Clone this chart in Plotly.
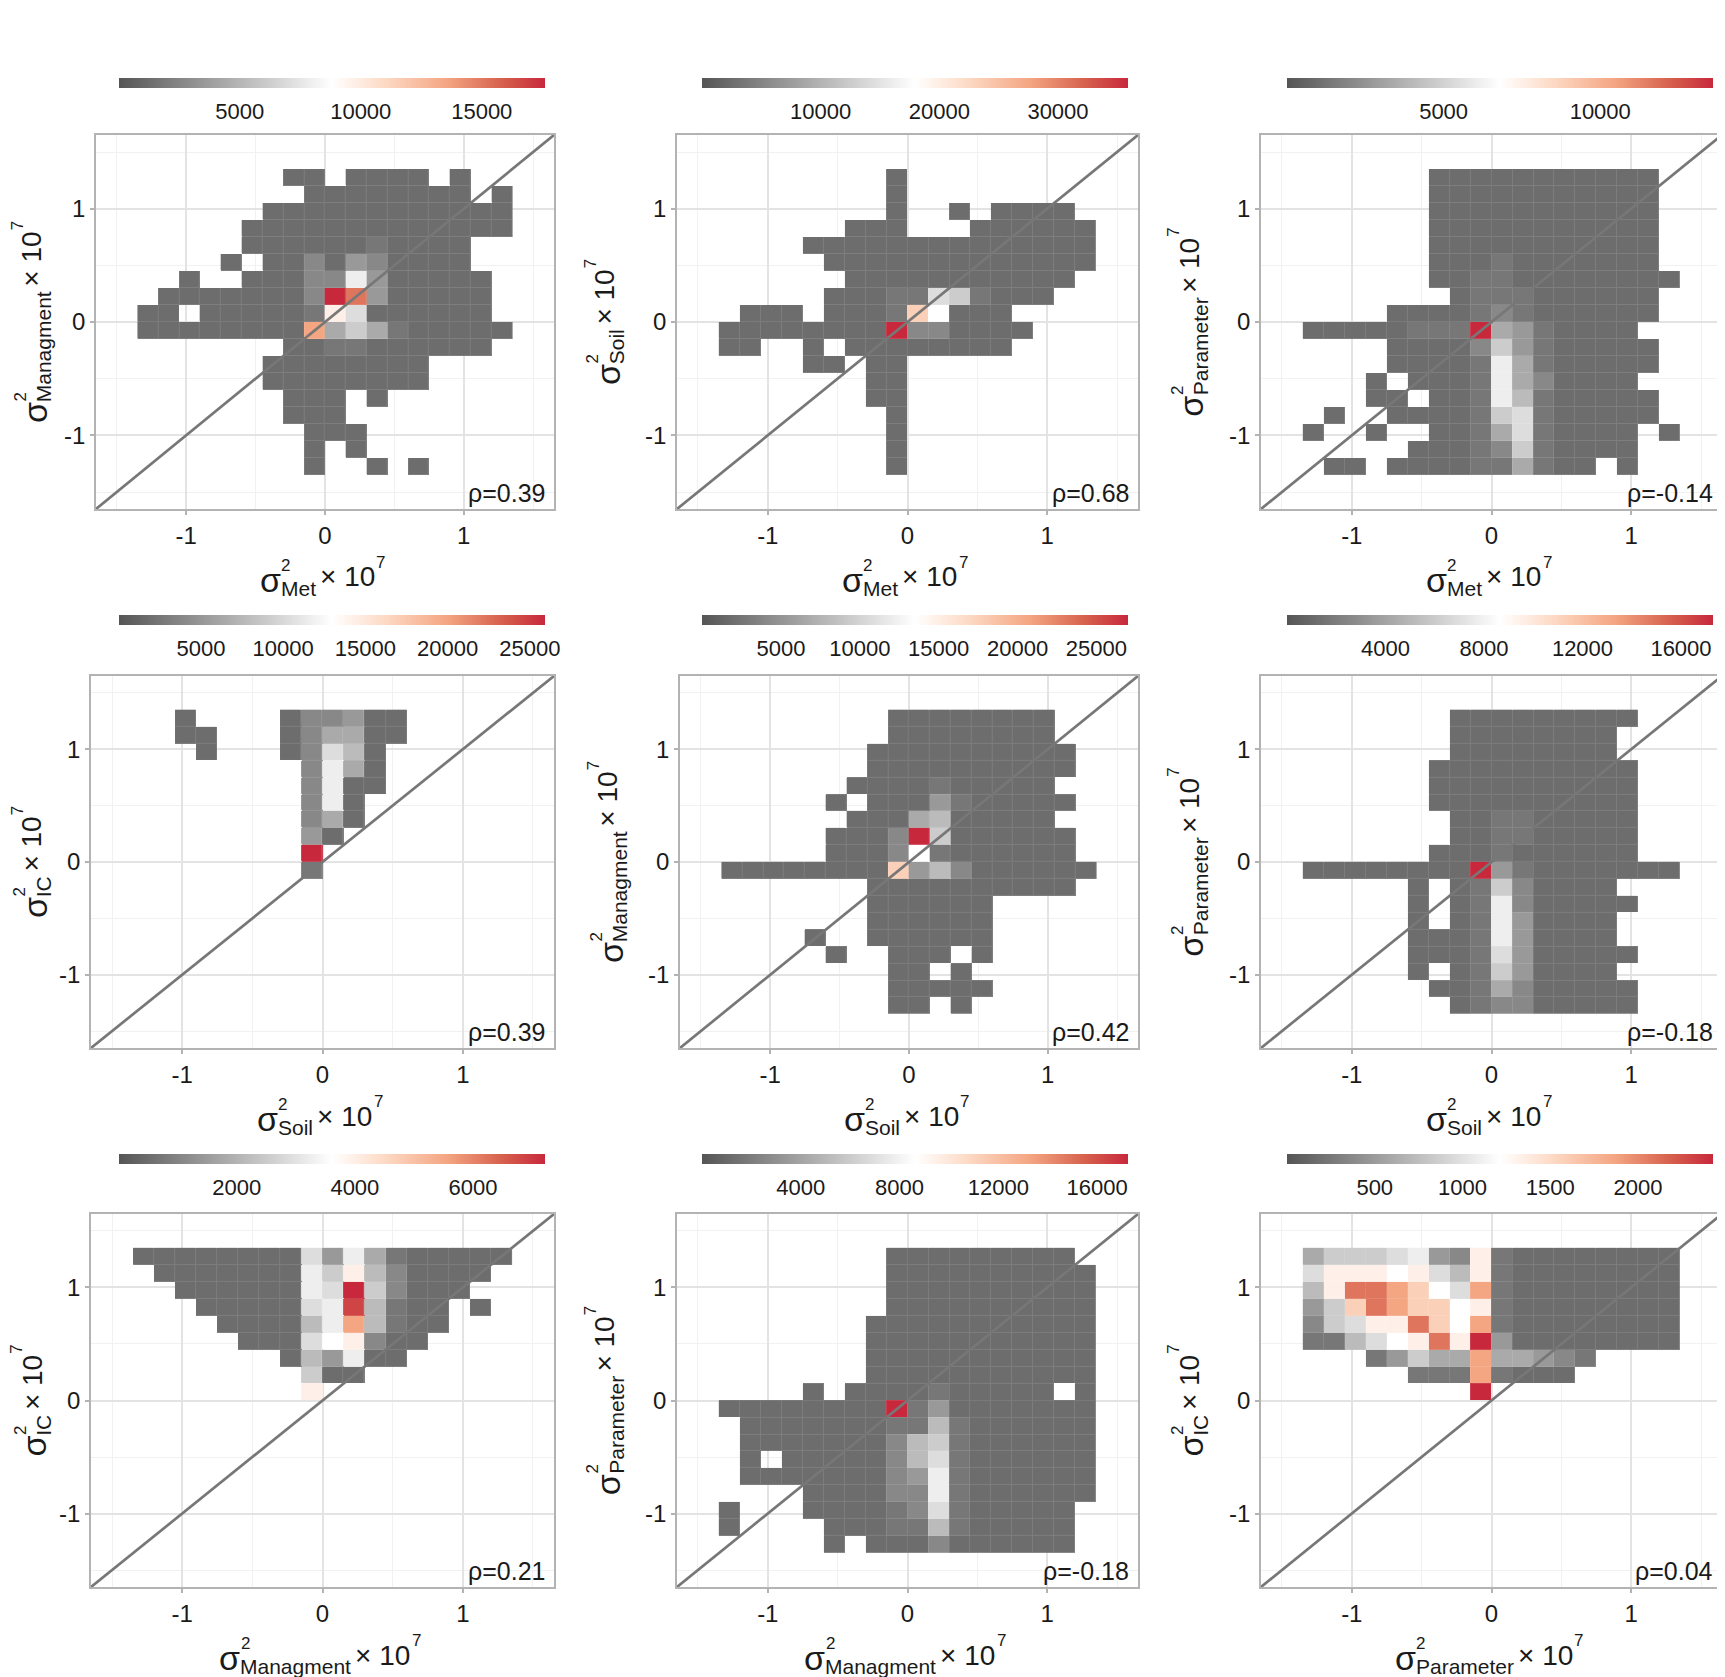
import plotly.graph_objects as go

# The page body has an 8px default margin, so the figure is drawn 8px in from the
# window's top-left corner; all layout pixel positions below are window pixels.
WIN_W, WIN_H = 1725, 1677
OFF = 8
W, H = WIN_W - OFF, WIN_H - OFF
FONT = "Liberation Sans, Arial, sans-serif"

# ---------------- data ----------------
BIN_CENTERS = [-1.275, -1.125, -0.975, -0.825, -0.675, -0.525, -0.375, -0.225, -0.075,
               0.075, 0.225, 0.375, 0.525, 0.675, 0.825, 0.975, 1.125, 1.275]
AXIS_TICKS = [-1, 0, 1]
AXIS_TICK_LABELS = ["-1", "0", "1"]
MINOR_TICKS = [-1.5, -0.5, 0.5, 1.5]
AXIS_RANGE = [-1.65, 1.65]

X_NAMES = ["Met", "Met", "Met", "Soil", "Soil", "Soil", "Managment", "Managment", "Parameter"]
Y_NAMES = ["Managment", "Soil", "Parameter", "IC", "Managment", "Parameter", "IC", "Parameter", "IC"]
RHO = ["0.39", "0.68", "-0.14", "0.39", "0.42", "-0.18", "0.21", "-0.18", "0.04"]
ZMAX = [17600, 35900, 13600, 25900, 27000, 17300, 7215, 17250, 2427]
CB_TICKS = [
    [5000, 10000, 15000],
    [10000, 20000, 30000],
    [5000, 10000],
    [5000, 10000, 15000, 20000, 25000],
    [5000, 10000, 15000, 20000, 25000],
    [4000, 8000, 12000, 16000],
    [2000, 4000, 6000],
    [4000, 8000, 12000, 16000],
    [500, 1000, 1500, 2000],
]

# cell level codes -> share of the colour-bar maximum ('.' = empty bin)
LEVELS = {'1': 0.07, '2': 0.10, '3': 0.15, '4': 0.20, '5': 0.25, '6': 0.30, '7': 0.35,
          '8': 0.40, '9': 0.45, 'w': 0.50, 'p': 0.55, 'q': 0.65, 'o': 0.77, 'r': 0.86,
          'S': 0.95, 'R': 1.00}

# rows listed top (y = 1.275) to bottom (y = -1.275), columns left to right
GRID_1 = [
    ".......11.1111.1..",
    "........11111111.1",
    "......111111111111",
    ".....1111111111111",
    ".....11111121111..",
    "....1.1131431111..",
    "..1..111339411111.",
    ".11111113Rr411111.",
    "11.111112p8111111.",
    "11111111o575211111",
    ".......1122111111.",
    "......11111111....",
    "......11111111....",
    ".......111.1......",
    ".......111........",
    "........111.......",
    "........1.1.......",
    "........1..1.1....",
]
GRID_2 = [
    "........1.........",
    "........1.........",
    "........1..1.1111.",
    "......111...111111",
    "....11111111111111",
    ".....1111111111111",
    "......11111111111.",
    ".....11122872111..",
    ".111.1112qw111....",
    "11111111R331111...",
    "11..1.11111111....",
    "....11.11.........",
    ".......11.........",
    ".......11.........",
    "........1.........",
    "........1.........",
    "........1.........",
    "........1.........",
]
GRID_3 = [
    "......11111111111.",
    "......11111111111.",
    "......11111111111.",
    "......11111111111.",
    "......11111111111.",
    "......11121111111.",
    "......112211111111",
    ".......1222111111.",
    "....1111232111111.",
    "11111222R5421111..",
    "....1111374211111.",
    "....1111295211111.",
    "...1.11129531111..",
    "...11.11296211111.",
    ".1..1111278211111.",
    "1..1..1125821111.1",
    ".....11123721111..",
    ".11.1111225211.1..",
]
GRID_4 = [
    "..1....133411.....",
    "..11...135511.....",
    "...1...13861......",
    "........3951......",
    "........3911......",
    "........391.......",
    "........351.......",
    "........41........",
    "........R.........",
    "........2.........",
    "..................",
    "..................",
    "..................",
    "..................",
    "..................",
    "..................",
    "..................",
    "..................",
]
GRID_5 = [
    "........11111111..",
    "........11111111..",
    ".......1111111111.",
    ".......1111111111.",
    "......1111211111..",
    ".....1.1114211111.",
    "......1115611111..",
    ".....1113R7111111.",
    ".....1113w2111111.",
    "11111111q463111111",
    ".......1111111111.",
    ".......111111.....",
    ".......111111.....",
    "....1..111111.....",
    ".....1..111.1.....",
    "........11.1......",
    "........11111.....",
    "........11.1......",
]
GRID_6 = [
    ".......111111111..",
    ".......11111111...",
    ".......11111111...",
    "......1111111111..",
    "......1111111111..",
    "......1111111111..",
    ".......112211111..",
    ".......112211111..",
    "......1112111111..",
    "11111111R421111111",
    ".....1.12731111...",
    ".....1.129311111..",
    ".....1.12941111...",
    ".....1112941111...",
    ".....11128411111..",
    ".....1.12741111...",
    "......1125311111..",
    ".......123311111..",
]
GRID_7 = [
    "111111118495211111",
    ".111111197p631111.",
    "..11111198R73111..",
    "...1111189S6211.1.",
    "....111169o6211...",
    ".....1118wp311....",
    ".......164911.....",
    "........711.......",
    "........p.........",
    "..................",
    "..................",
    "..................",
    "..................",
    "..................",
    "..................",
    "..................",
    "..................",
    "..................",
]
GRID_8 = [
    "........111111111.",
    "........1111111111",
    "........1111111111",
    "........1111111111",
    ".......11111111111",
    ".......11111111111",
    ".......11111111111",
    ".......11111111111",
    "....1.1111211111.1",
    "11111111R241111111",
    ".11111112262111111",
    ".11111113672111111",
    ".1.111113682111111",
    ".11111113492111111",
    "....11113392111111",
    "1...1111238211111.",
    "1....111226211111.",
    ".....1.1113111111.",
]
GRID_9 = [
    "57778943p211111111",
    "8pppwp86p211111111",
    "6prroqw8o211111111",
    "47qroqqwp211111111",
    "378pprqwo211111111",
    "2268wprpR411111111",
    "...24755o55432....",
    ".....222o2111.....",
    "........R.........",
    "..................",
    "..................",
    "..................",
    "..................",
    "..................",
    "..................",
    "..................",
    "..................",
    "..................",
]
GRIDS = [GRID_1, GRID_2, GRID_3, GRID_4, GRID_5, GRID_6, GRID_7, GRID_8, GRID_9]

# ---------------- styling / layout ----------------
COLORSCALE = [[0.0, "#555555"], [0.5, "#ffffff"], [0.62, "#fddbc7"],
              [0.77, "#f4a582"], [0.9, "#d6604d"], [1.0, "#c8283c"]]

PANEL_X0 = [96, 677, 1261, 91, 680, 1261, 91, 677, 1261]
PANEL_X1 = [554, 1138, 1722, 554, 1138, 1722, 554, 1138, 1722]
ROW_TOP = [135, 676, 1214]
ROW_BOT = [509, 1048, 1587]
CB_CX = [331.7, 915.0, 1500.0]
CB_TOP = [78.5, 615.0, 1154.0]
CB_LEN = 426


def px(x):  # window px -> paper x
    return (x - OFF) / W


def py(y):  # window px -> paper y
    return 1 - (y - OFF) / H


CHAR_W = {'M': .833, 'e': .556, 't': .278, 'a': .556, 'n': .556, 'g': .556, 'm': .833,
          'S': .667, 'o': .556, 'i': .222, 'l': .222, 'I': .278, 'C': .722, 'P': .667,
          'r': .333, ' ': .278, '×': .584, '1': .556, '0': .556, '7': .556, '2': .556}


def text_w(s, size):
    return sum(CHAR_W.get(c, .556) for c in s) * size


SIG, SUB, SUP, MAIN, EXP = 34, 21, 17, 28, 17
TXT = "#1a1a1a"


def title_pieces(name):
    """(text, size, centre along the text, offset across it) for sigma^2_name x 10^7."""
    w_sig = 0.58 * SIG
    s1 = w_sig + 0.5
    w_sub = text_w(name, SUB)
    s2 = s1 + w_sub + 4
    w_main = text_w("× 10", MAIN)
    s3 = s2 + w_main + 1
    w_exp = text_w("7", EXP)
    pieces = [
        ("σ", SIG, w_sig / 2, 2.5),
        (name, SUB, s1 + w_sub / 2, 11.5),
        ("2", SUP, s1 + text_w("2", SUP) / 2, -12),
        ("× 10", MAIN, s2 + w_main / 2, 0),
        ("7", EXP, s3 + w_exp / 2, -15),
    ]
    return pieces, s3 + w_exp


fig = go.Figure()
annotations = []
layout = {}

for k in range(9):
    row, col = divmod(k, 3)
    sfx = "" if k == 0 else str(k + 1)
    ca = "coloraxis" + sfx
    z = [[None if ch == "." else LEVELS[ch] * ZMAX[k] for ch in line]
         for line in reversed(GRIDS[k])]

    # underlay (gives the faint lighter seams between tiles), then tiles
    fig.add_trace(go.Heatmap(x=BIN_CENTERS, y=BIN_CENTERS, z=z, coloraxis=ca,
                             xaxis="x" + sfx, yaxis="y" + sfx, opacity=0.88,
                             hoverinfo="skip"))
    fig.add_trace(go.Heatmap(x=BIN_CENTERS, y=BIN_CENTERS, z=z, coloraxis=ca,
                             xaxis="x" + sfx, yaxis="y" + sfx, xgap=1, ygap=1,
                             hoverinfo="skip"))
    fig.add_trace(go.Scatter(x=AXIS_RANGE, y=AXIS_RANGE, mode="lines",
                             line=dict(color="#777777", width=2.7),
                             xaxis="x" + sfx, yaxis="y" + sfx, showlegend=False,
                             hoverinfo="skip"))

    x0, x1 = PANEL_X0[k], PANEL_X1[k]
    top, bot = ROW_TOP[row], ROW_BOT[row]
    common = dict(range=AXIS_RANGE, tickmode="array", tickvals=AXIS_TICKS,
                  ticktext=AXIS_TICK_LABELS, showgrid=True, gridcolor="#e3e3e3",
                  gridwidth=1.5, zeroline=False, showline=True, linecolor="#b3b3b3",
                  linewidth=1.5, mirror=True, ticks="outside", ticklen=4,
                  tickwidth=1.5, tickcolor="#b3b3b3",
                  tickfont=dict(size=24, color=TXT, family=FONT),
                  minor=dict(tickmode="array", tickvals=MINOR_TICKS, showgrid=True,
                             gridcolor="#f1f1f1", gridwidth=1, ticks=""),
                  fixedrange=True)
    layout["xaxis" + sfx] = dict(domain=[px(x0), px(x1)], anchor="y" + sfx, **common)
    layout["yaxis" + sfx] = dict(domain=[py(bot), py(top)], anchor="x" + sfx, **common)

    layout[ca] = dict(
        cmin=0, cmax=ZMAX[k], colorscale=COLORSCALE,
        colorbar=dict(orientation="h", x=px(CB_CX[col]), xanchor="center",
                      y=py(CB_TOP[row]), yanchor="top", len=CB_LEN,
                      lenmode="pixels", thickness=10, thicknessmode="pixels",
                      xpad=0, ypad=0, outlinewidth=0, tickmode="array",
                      tickvals=CB_TICKS[k], tickformat="d", ticks="outside",
                      ticklen=5, tickcolor="rgba(0,0,0,0)",
                      tickfont=dict(size=22, color=TXT, family=FONT)))

    # rho label
    annotations.append(dict(text="ρ=" + RHO[k], xref="x" + sfx + " domain",
                            yref="y" + sfx + " domain", x=1, y=0, xanchor="right",
                            yanchor="bottom", xshift=-7, yshift=0, showarrow=False,
                            font=dict(size=25, color=TXT, family=FONT)))

    # x-axis title
    pieces, L = title_pieces(X_NAMES[k])
    start = (x0 + x1) / 2 - L / 2 - 2
    base = bot + 68
    for txt, size, s, d in pieces:
        annotations.append(dict(text=txt, xref="paper", yref="paper",
                                x=px(start + s), y=py(base + d),
                                xanchor="center", yanchor="middle", showarrow=False,
                                font=dict(size=size, color=TXT, family=FONT)))
    # y-axis title (rotated, reading upward)
    pieces, L = title_pieces(Y_NAMES[k])
    start = (top + bot) / 2 + L / 2
    base = max(x0 - 72, OFF + 24)
    for txt, size, s, d in pieces:
        annotations.append(dict(text=txt, xref="paper", yref="paper",
                                x=px(base + d), y=py(start - s),
                                xanchor="center", yanchor="middle", textangle=-90,
                                showarrow=False,
                                font=dict(size=size, color=TXT, family=FONT)))

fig.update_layout(width=W, height=H, margin=dict(l=0, r=0, t=0, b=0),
                  paper_bgcolor="white", plot_bgcolor="white", showlegend=False,
                  font=dict(family=FONT, color=TXT), annotations=annotations, **layout)

fig.write_html("out.html")
